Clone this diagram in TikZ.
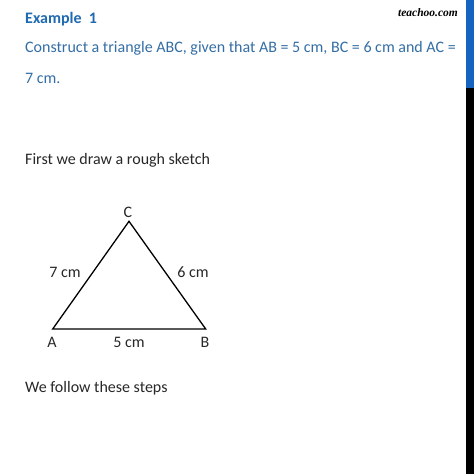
\documentclass[tikz,border=0pt]{standalone}
\usepackage{fontspec}
\setmainfont{Carlito}
\newfontfamily\logofont{Liberation Serif}
\definecolor{headblue}{RGB}{31,106,176}
\definecolor{bodyblue}{RGB}{52,110,165}
\definecolor{bodygray}{RGB}{40,40,40}
\definecolor{barblue}{RGB}{21,101,192}
\begin{document}
\begin{tikzpicture}[x=1pt,y=-1pt,
  txt/.style={anchor=west,inner sep=0pt,font=\fontsize{16}{19}\selectfont},
  lbl/.style={inner sep=0pt,font=\fontsize{16}{19}\selectfont,text=bodygray},
  side/.style={draw=black,line width=1.3pt,line join=miter}]
\useasboundingbox (0,0) rectangle (474,474);
\fill[white] (0,0) rectangle (474,474);
\fill[barblue] (466,0) rectangle (474,88);
\fill[black] (466,88) rectangle (474,474);
\node[txt,text=headblue,font=\fontsize{16}{19}\selectfont\bfseries] (title) at (25,19) {Example\ \ 1};
\node[inner sep=0pt,font=\logofont\fontsize{11.5}{13}\selectfont\bfseries\itshape] (logo) at (428,13) {teachoo.com};
\node[txt,text=bodyblue] (l1) at (25,48) {Construct a triangle ABC, given that AB = 5 cm, BC = 6 cm and AC =};
\node[txt,text=bodyblue] (l2) at (25,78) {7 cm.};
\node[txt,text=bodygray] (l3) at (25,160) {First we draw a rough sketch};
\node[txt,text=bodygray] (l4) at (25,388) {We follow these steps};
\coordinate (A) at (52.7,329);
\coordinate (B) at (205.7,329);
\coordinate (C) at (129,221.3);
\draw[side] (A) -- (B) -- (C) -- cycle;
\node[lbl] (la) at (52,342) {A};
\node[lbl] (lb) at (205,342) {B};
\node[lbl] (lc) at (128,212) {C};
\node[lbl] (lab) at (129,342) {5 cm};
\node[lbl] (lac) at (65,272) {7 cm};
\node[lbl] (lbc) at (193,272) {6 cm};
\end{tikzpicture}
\end{document}
